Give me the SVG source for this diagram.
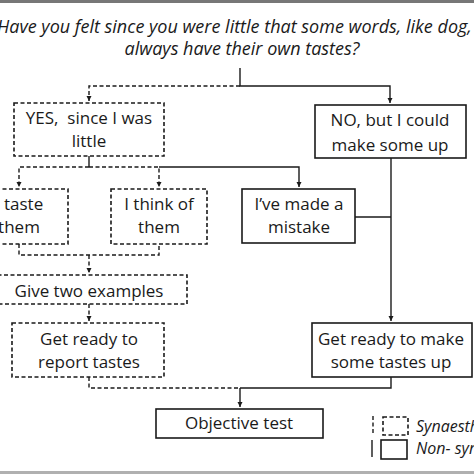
<svg xmlns="http://www.w3.org/2000/svg" width="474" height="474" viewBox="0 0 474 474">
<defs>
<style>
.t{font-family:"Open Sans","Liberation Sans",sans-serif;font-size:17px;fill:#1a1a1a;text-anchor:middle}
.ti{font-family:"Open Sans","Liberation Sans",sans-serif;font-size:18px;font-style:italic;fill:#1a1a1a}
.box{fill:#fff;stroke:#1a1a1a;stroke-width:1.6}
.dbox{fill:#fff;stroke:#1a1a1a;stroke-width:1.6;stroke-dasharray:4 2.5}
.ln{fill:none;stroke:#1a1a1a;stroke-width:1.4}
.dl{fill:none;stroke:#1a1a1a;stroke-width:1.4;stroke-dasharray:4 2.5}
</style>
<marker id="ah" markerUnits="userSpaceOnUse" markerWidth="6" markerHeight="6" refX="5" refY="3" orient="auto">
<path d="M0,0.5 L5,3 L0,5.5 z" fill="#1a1a1a"/>
</marker>
</defs>
<rect width="474" height="474" fill="#fff"/>
<rect x="0" y="0" width="474" height="3" fill="#777"/>
<rect x="0" y="471" width="474" height="3" fill="#b0b0b0"/>

<g id="title">
<text class="ti" x="-3" y="33">Have you felt since you were little that some words, like dog,</text>
<text class="ti" x="242" y="55" text-anchor="middle">always have their own tastes?</text>
</g>

<g id="connectors">
<path class="ln" d="M240,68 V86 H390 V103" marker-end="url(#ah)"/>
<path class="dl" d="M240,86 H89 V101" marker-end="url(#ah)"/>
<path class="ln" d="M89,156 V167"/>
<path class="dl" d="M89,167 H19 V187" marker-end="url(#ah)"/>
<path class="dl" d="M89,167 H159 V187" marker-end="url(#ah)"/>
<path class="ln" d="M159,167 H299 V187" marker-end="url(#ah)"/>
<path class="dl" d="M19,244 V255 H159 V244"/>
<path class="dl" d="M89,255 V273" marker-end="url(#ah)"/>
<path class="dl" d="M89,304 V321" marker-end="url(#ah)"/>
<path class="dl" d="M89,377 V388 H240"/>
<path class="ln" d="M240,388 V407" marker-end="url(#ah)"/>
<path class="ln" d="M391,158 V321" marker-end="url(#ah)"/>
<path class="ln" d="M355,217 H391"/>
<path class="ln" d="M391,377 V388 H240"/>
</g>

<g id="yes">
<rect class="dbox" x="14" y="103" width="150" height="53"/>
<text class="t" x="89" y="124">YES,&#160; since I was</text>
<text class="t" x="89" y="147">little</text>
</g>
<g id="no">
<rect class="box" x="315" y="105" width="151" height="53"/>
<text class="t" x="390" y="126">NO, but I could</text>
<text class="t" x="390" y="151">make some up</text>
</g>
<g id="taste">
<rect class="dbox" x="-30" y="189" width="98" height="55"/>
<text class="t" x="19" y="210">I taste</text>
<text class="t" x="19" y="233">them</text>
</g>
<g id="think">
<rect class="dbox" x="111" y="189" width="96" height="55"/>
<text class="t" x="159" y="210">I think of</text>
<text class="t" x="159" y="233">them</text>
</g>
<g id="mistake">
<rect class="box" x="242" y="189" width="113" height="54"/>
<text class="t" x="299" y="210">I’ve made a</text>
<text class="t" x="299" y="233">mistake</text>
</g>
<g id="examples">
<rect class="dbox" x="-9" y="275" width="196" height="29"/>
<text class="t" x="89" y="297">Give two examples</text>
</g>
<g id="report">
<rect class="dbox" x="12" y="323" width="152" height="54"/>
<text class="t" x="89" y="345">Get ready to</text>
<text class="t" x="89" y="368">report tastes</text>
</g>
<g id="makeup">
<rect class="box" x="312" y="323" width="160" height="54"/>
<text class="t" x="391" y="345">Get ready to make</text>
<text class="t" x="391" y="368">some tastes up</text>
</g>
<g id="objective">
<rect class="box" x="156" y="409" width="167" height="29"/>
<text class="t" x="239" y="429">Objective test</text>
</g>
<g id="legend">
<path class="dl" d="M373,416 V435"/>
<rect class="dbox" x="383" y="417" width="25" height="18"/>
<text class="ti" x="416" y="432" style="font-size:16px">Synaesthetes</text>
<path class="ln" d="M372,440 V457"/>
<rect class="box" x="381" y="440" width="26" height="19"/>
<text class="ti" x="416" y="454" style="font-size:16px">Non- synaesthetes</text>
</g>
</svg>
